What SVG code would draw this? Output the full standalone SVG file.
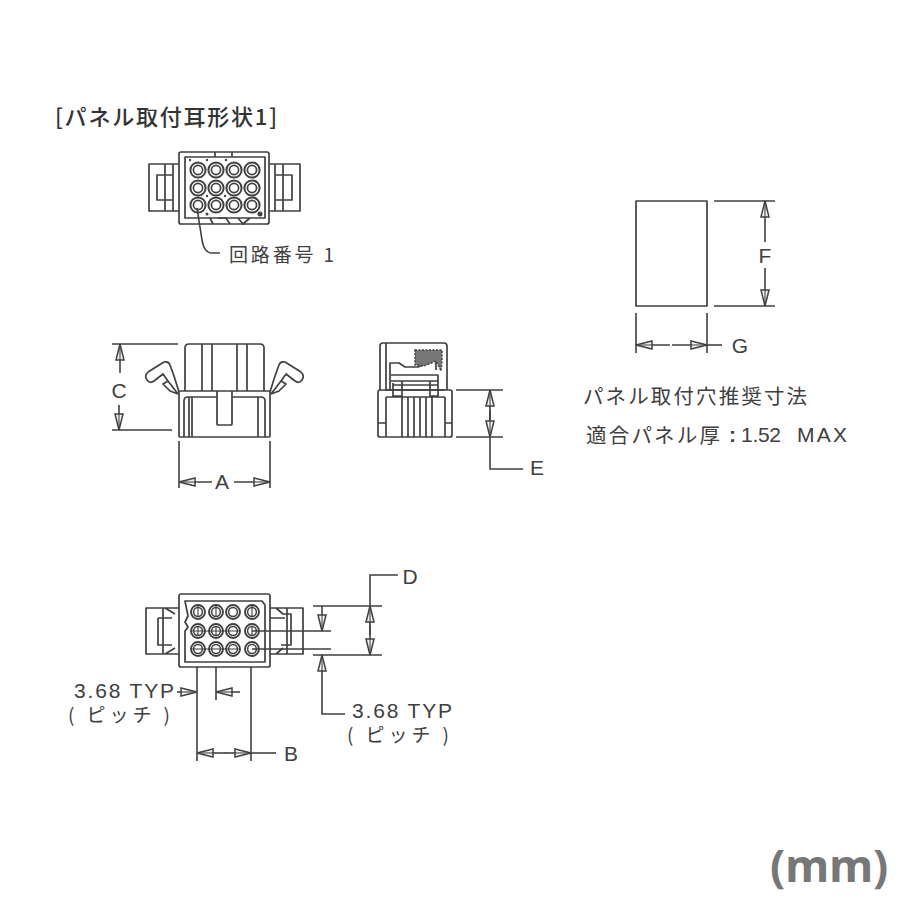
<svg xmlns="http://www.w3.org/2000/svg" xmlns:xlink="http://www.w3.org/1999/xlink" width="900" height="900" viewBox="0 0 900 900">
<style>
.l{fill:none;stroke:#404040;stroke-width:1.7;stroke-linejoin:round;stroke-linecap:butt}
.h{fill:none;stroke:#404040;stroke-width:1.1}
.d{fill:none;stroke:#404040;stroke-width:1.6}
.a{marker-end:url(#ar)}
.t{font-family:"Liberation Sans","Noto Sans CJK JP",sans-serif;fill:#404040;font-size:21px}
.j{font-family:"Noto Sans CJK JP","Liberation Sans",sans-serif;fill:#404040;font-size:19px}
.k{font-size:20.5px}
.c{text-anchor:middle}
</style>
<defs>
<marker id="ar" markerUnits="userSpaceOnUse" markerWidth="22" markerHeight="12" refX="18" refY="5" orient="auto">
<path d="M18 5 L2 1 L2 9 Z" fill="#e4e4e4" fill-opacity="0.35" stroke="#404040" stroke-width="1.5"/>
</marker>
<g id="pin"><circle r="7.6" fill="none" stroke="#404040" stroke-width="2"/><circle r="4.6" fill="none" stroke="#404040" stroke-width="1.7"/></g>
<g id="pinb"><circle r="7" fill="none" stroke="#404040" stroke-width="1.9"/><circle r="4.4" fill="none" stroke="#404040" stroke-width="1.5"/></g>
</defs>
<rect width="900" height="900" fill="#fff"/>

<g id="title"><text x="55" y="125" class="j" style="font-weight:500;font-size:22px;fill:#333" textLength="222">[パネル取付耳形状1]</text></g>

<g id="top-view">
<rect class="l" x="179" y="152" width="90" height="72" rx="2"/>
<rect class="l" x="185" y="157" width="80" height="61"/>
<path class="l" d="M179 164H149V211H179M165 164V211M173 164V211M173 175H157V200H173M270 164H300V211H270M275 164V211M283 164V211M275 175H292V200H275"/>
<path class="l" d="M215 152V157M232 152V157M210 218L213 224M218 218H226L230 224M238 218L243 224L250 218"/>
<use xlink:href="#pin" x="198" y="170"/><use xlink:href="#pin" x="216" y="170"/><use xlink:href="#pin" x="234" y="170"/><use xlink:href="#pin" x="252" y="170"/>
<use xlink:href="#pin" x="198" y="188"/><use xlink:href="#pin" x="216" y="188"/><use xlink:href="#pin" x="234" y="188"/><use xlink:href="#pin" x="252" y="188"/>
<use xlink:href="#pin" x="198" y="205"/><use xlink:href="#pin" x="216" y="205"/><use xlink:href="#pin" x="234" y="205"/><use xlink:href="#pin" x="252" y="205"/>
<circle cx="260" cy="214" r="2.5" fill="#404040"/><circle cx="207" cy="214" r="1.5" fill="#404040"/>
<circle cx="190" cy="160" r="1.2" fill="#404040"/><circle cx="207" cy="160" r="1.2" fill="#404040"/><circle cx="226" cy="160" r="1.2" fill="#404040"/><circle cx="207" cy="196" r="1.2" fill="#404040"/><circle cx="225" cy="196" r="1.2" fill="#404040"/>
<text x="229" y="262" class="j" textLength="105">回路番号 1</text>
</g>

<g id="front-view">
<path class="l" d="M185 391V348Q185 344 189 344H260Q264 344 264 348V391M202 344V391M212 344V391M237 344V391M247 344V391"/>
<rect class="l" x="179" y="391" width="91" height="46" rx="1"/>
<path class="l" d="M217 391V424Q217 425 218 425H231Q232 425 232 424V391" fill="#fff"/>
<path class="l" d="M184 437V401Q184 397 188 397H217M232 397H261Q265 397 265 401V437M189 397V437M192 397V437M258 397V437"/>
<path class="l" d="M148 372L164 362Q169 361 170 365L174 376L179 392M148 372Q144 376 147 380Q150 384 154 381L163 374L168 381L163 384L170 391L178 394M168 381L178 394"/>
<path class="l" d="M301 372L285 362Q280 361 279 365L275 376L270 392M301 372Q305 376 302 380Q299 384 295 381L286 374L281 381L286 384L279 391L271 394M281 381L271 394"/>
</g>

<g id="side-view">
<path class="l" d="M380 390V346Q380 343 383 343H444Q447 343 447 346V390M386 343V390"/>
<rect class="l" x="378" y="390" width="74" height="47" rx="2"/>
<path class="l" d="M385 390H445M386 397V437M445 397V437M386 397H445M390 390V363H399L405 367H418L436 360V370M391 375H438V390M391 381H438M393 385H438M393 383V396H402V383M430 383V396H438V383M402 381V390M430 381V390"/>
<path class="l" d="M378 423H386M445 423H452M402 397V437M408 397V437M414 397V437M420 397V437M426 397V437M432 397V437"/>
<path d="M415 350H442V360L441 371L436 361L424 366L415 365Z" fill="#777" stroke="#404040" stroke-dasharray="2 1.5" stroke-width="1.5"/>
</g>

<g id="panel-cutout">
<rect class="l" x="636" y="201" width="71" height="105"/>
</g>

<g id="bottom-view">
<rect class="l" x="179" y="594" width="91" height="73" rx="2"/>
<path class="l" d="M185 601H262L265 605V662H185V631L188 627L185 622L188 616Z"/>
<path class="l" d="M179 608H146V654H179M163 608V654M158 618V645H172M158 618H172M165 608L175 614M165 654L175 648M270 608H303V654H270M287 608V654M276 608L283 614H291V645H281M276 654L283 648M270 618H285"/>
<use xlink:href="#pinb" x="198" y="612"/><use xlink:href="#pinb" x="216" y="612"/><use xlink:href="#pinb" x="233" y="612"/><use xlink:href="#pinb" x="252" y="612"/>
<use xlink:href="#pinb" x="198" y="631"/><use xlink:href="#pinb" x="216" y="631"/><use xlink:href="#pinb" x="233" y="631"/><use xlink:href="#pinb" x="252" y="631"/>
<use xlink:href="#pinb" x="198" y="649"/><use xlink:href="#pinb" x="216" y="649"/><use xlink:href="#pinb" x="233" y="649"/><use xlink:href="#pinb" x="252" y="649"/>
<path class="h" d="M198 604V617M216 604V617M252 604V617M191 631H240M198 626V636M216 626V636M252 626V636M191 649H240"/>
</g>

<g id="connectors">
<path class="d" d="M197 208L202 240Q204 253 212 253H220"/>
<path class="d" d="M112 344H178M112 430H172"/>
<path class="d a" d="M120 373V344"/><path class="d a" d="M119 405V430"/>
<path class="d" d="M179 441V488M270 441V488"/>
<path class="d a" d="M212 482H179"/><path class="d a" d="M234 482H270"/>
<path class="d" d="M456 390H503M456 437H503"/>
<path class="d a" d="M490 420V390"/><path class="d a" d="M490 410V437"/>
<path class="d" d="M490 437V469H523"/>
<path class="d" d="M714 201H775M714 306H775"/>
<path class="d a" d="M765 242V201"/><path class="d a" d="M765 268V306"/>
<path class="d" d="M636 313V353M707 313V353"/>
<path class="d a" d="M670 345H636"/><path class="d a" d="M672 345H707"/>
<path class="d" d="M707 345H722"/>
<path class="d" d="M313 606H382M313 655H382M252 631H331M252 649H331"/>
<path class="d a" d="M370 635V606"/><path class="d a" d="M370 625V655"/>
<path class="d" d="M370 606V575H398"/>
<path class="d a" d="M322 606V631"/><path class="d a" d="M322 680V655"/>
<path class="d" d="M322 680V714H345"/>
<path class="d" d="M197 667V761M216 667V700M251 667V761"/>
<path class="d a" d="M177 692H197"/><path class="d a" d="M240 692H216"/>
<path class="d a" d="M226 753H197"/><path class="d a" d="M225 753H251"/>
<path class="d" d="M251 753H276"/>
</g>

<g id="labels">
<text x="119" y="398" class="t c">C</text>
<text x="222" y="489" class="t c">A</text>
<text x="537" y="475" class="t c">E</text>
<text x="765" y="263" class="t c">F</text>
<text x="740" y="353" class="t c">G</text>
<text x="410" y="584" class="t c">D</text>
<text x="291" y="761" class="t c">B</text>
<text x="74" y="698" class="t" textLength="100">3.68 TYP</text>
<text x="68" y="722" class="j" textLength="102">( ピッチ )</text>
<text x="352" y="718" class="t" textLength="100">3.68 TYP</text>
<text x="347" y="742" class="j" textLength="102">( ピッチ )</text>
<text x="583" y="404" class="j k" textLength="224">パネル取付穴推奨寸法</text>
<text x="586" y="443" class="j k" textLength="134">適合パネル厚</text>
<text x="729" y="442" class="t" style="font-weight:700">:</text>
<text x="741" y="442" class="t" textLength="40">1.52</text>
<text x="797" y="442" class="t" textLength="50">MAX</text>
<text x="770" y="882" style="font-family:'Noto Sans','Open Sans',sans-serif;font-weight:700;font-size:45px;fill:#777">(mm)</text>
</g>
</svg>
